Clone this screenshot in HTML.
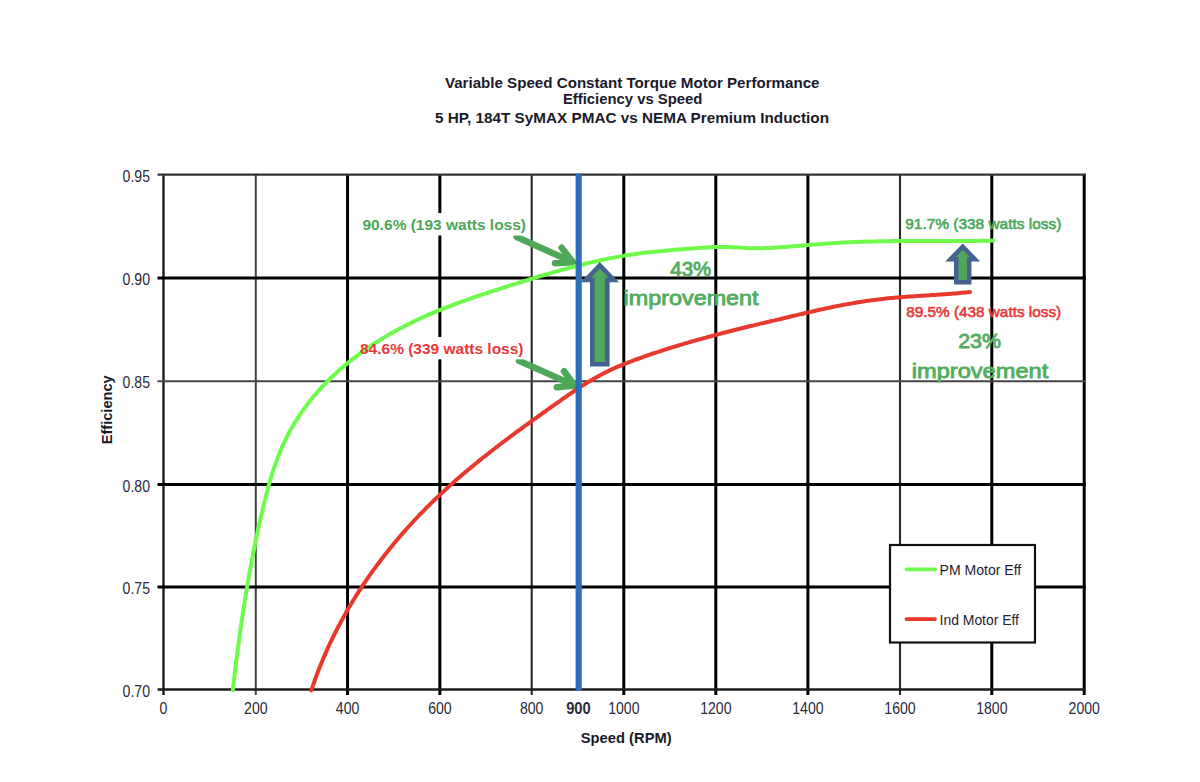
<!DOCTYPE html>
<html><head><meta charset="utf-8"><style>
html,body{margin:0;padding:0;background:#fff;}
svg{display:block;}
text{font-family:"Liberation Sans",sans-serif;}
.tk{font-size:16px;fill:#2a2a3a;}
.tt{font-size:15px;font-weight:bold;fill:#1a1a2a;}
.an{font-size:14.5px;font-weight:bold;}
.an2{font-size:15px;font-weight:normal;stroke-width:0.6px;}
.big{font-size:20px;font-weight:normal;fill:#52ae5e;stroke:#52ae5e;stroke-width:0.85px;}
.lg{font-size:14px;fill:#1e1e2e;}
</style></head><body>
<svg width="1200" height="782" viewBox="0 0 1200 782">
<rect x="0" y="0" width="1200" height="782" fill="#fff"/>
<line x1="163.50" y1="174.00" x2="163.50" y2="695.00" stroke="#1c1c1c" stroke-width="2.4"/>
<line x1="255.80" y1="174.00" x2="255.80" y2="695.00" stroke="#404040" stroke-width="2.0"/>
<line x1="347.55" y1="174.00" x2="347.55" y2="695.00" stroke="#000" stroke-width="3.0"/>
<line x1="439.85" y1="174.00" x2="439.85" y2="695.00" stroke="#000" stroke-width="3.0"/>
<line x1="531.70" y1="174.00" x2="531.70" y2="695.00" stroke="#2a2a2a" stroke-width="2.1"/>
<line x1="623.80" y1="174.00" x2="623.80" y2="695.00" stroke="#000" stroke-width="3.0"/>
<line x1="715.80" y1="174.00" x2="715.80" y2="695.00" stroke="#000" stroke-width="3.0"/>
<line x1="807.90" y1="174.00" x2="807.90" y2="695.00" stroke="#000" stroke-width="3.0"/>
<line x1="900.00" y1="174.00" x2="900.00" y2="695.00" stroke="#2a2a2a" stroke-width="2.1"/>
<line x1="991.80" y1="174.00" x2="991.80" y2="695.00" stroke="#000" stroke-width="3.0"/>
<line x1="1084.20" y1="174.00" x2="1084.20" y2="695.00" stroke="#000" stroke-width="3.0"/>
<line x1="157.50" y1="174.60" x2="1085.70" y2="174.60" stroke="#333" stroke-width="2.1"/>
<line x1="157.50" y1="277.90" x2="1085.70" y2="277.90" stroke="#000" stroke-width="3.0"/>
<line x1="157.50" y1="381.20" x2="1085.70" y2="381.20" stroke="#444" stroke-width="2.0"/>
<line x1="157.50" y1="484.40" x2="1085.70" y2="484.40" stroke="#000" stroke-width="3.0"/>
<line x1="157.50" y1="586.90" x2="1085.70" y2="586.90" stroke="#000" stroke-width="3.0"/>
<line x1="157.50" y1="689.50" x2="1085.70" y2="689.50" stroke="#1c1c1c" stroke-width="2.5"/>
<text transform="translate(150.0,181.7) scale(0.88,1)" text-anchor="end" class="tk">0.95</text>
<text transform="translate(150.0,285.0) scale(0.88,1)" text-anchor="end" class="tk">0.90</text>
<text transform="translate(150.0,388.3) scale(0.88,1)" text-anchor="end" class="tk">0.85</text>
<text transform="translate(150.0,491.5) scale(0.88,1)" text-anchor="end" class="tk">0.80</text>
<text transform="translate(150.0,594.0) scale(0.88,1)" text-anchor="end" class="tk">0.75</text>
<text transform="translate(150.0,696.6) scale(0.88,1)" text-anchor="end" class="tk">0.70</text>
<text transform="translate(163.5,713.8) scale(0.88,1)" text-anchor="middle" class="tk">0</text>
<text transform="translate(255.8,713.8) scale(0.88,1)" text-anchor="middle" class="tk">200</text>
<text transform="translate(347.6,713.8) scale(0.88,1)" text-anchor="middle" class="tk">400</text>
<text transform="translate(439.9,713.8) scale(0.88,1)" text-anchor="middle" class="tk">600</text>
<text transform="translate(531.7,713.8) scale(0.88,1)" text-anchor="middle" class="tk">800</text>
<text transform="translate(623.8,713.8) scale(0.88,1)" text-anchor="middle" class="tk">1000</text>
<text transform="translate(715.8,713.8) scale(0.88,1)" text-anchor="middle" class="tk">1200</text>
<text transform="translate(807.9,713.8) scale(0.88,1)" text-anchor="middle" class="tk">1400</text>
<text transform="translate(900.0,713.8) scale(0.88,1)" text-anchor="middle" class="tk">1600</text>
<text transform="translate(991.8,713.8) scale(0.88,1)" text-anchor="middle" class="tk">1800</text>
<text transform="translate(1084.2,713.8) scale(0.88,1)" text-anchor="middle" class="tk">2000</text>
<text transform="translate(578.4,713.8) scale(0.92,1)" text-anchor="middle" class="tk" font-weight="bold" fill="#1e2c72">900</text>
<text x="632.2" y="88.0" text-anchor="middle" class="tt" textLength="374.6" lengthAdjust="spacingAndGlyphs">Variable Speed Constant  Torque Motor Performance</text>
<text x="632.7" y="104.0" text-anchor="middle" class="tt" textLength="139.5" lengthAdjust="spacingAndGlyphs">Efficiency vs Speed</text>
<text x="632" y="123.0" text-anchor="middle" class="tt" textLength="394" lengthAdjust="spacingAndGlyphs">5 HP, 184T SyMAX PMAC vs NEMA Premium Induction</text>
<text x="626.2" y="743.2" text-anchor="middle" class="tt" textLength="91" lengthAdjust="spacingAndGlyphs">Speed (RPM)</text>
<text transform="translate(112,409.8) rotate(-90)" text-anchor="middle" class="tt" textLength="69" lengthAdjust="spacingAndGlyphs">Efficiency</text>
<path d="M516.70,237.00 L573.00,262.20 M561.60,247.80 L573.00,262.20 L555.00,263.30" fill="none" stroke="#4fa85a" stroke-width="6.5" stroke-linecap="round" stroke-linejoin="round"/>
<path d="M519.00,360.80 L574.90,385.60 M564.00,371.30 L574.90,385.60 L556.80,387.20" fill="none" stroke="#4fa85a" stroke-width="6.5" stroke-linecap="round" stroke-linejoin="round"/>
<rect x="357" y="213" width="172" height="22.5" fill="#fff"/>
<rect x="357" y="337" width="172" height="22.3" fill="#fff"/>
<path d="M232.8,690.2 L233.1,687.6 L233.4,685.0 L233.7,682.5 L234.0,679.9 L234.3,677.3 L234.6,674.8 L234.9,672.2 L235.2,669.6 L235.5,667.1 L235.8,664.5 L236.1,661.9 L236.5,659.4 L236.8,656.8 L237.1,654.3 L237.5,651.7 L237.8,649.2 L238.1,646.6 L238.5,644.1 L238.8,641.5 L239.1,639.0 L239.5,636.4 L239.9,633.9 L240.2,631.3 L240.6,628.8 L240.9,626.3 L241.3,623.7 L241.7,621.2 L242.0,618.7 L242.4,616.1 L242.8,613.6 L243.2,611.1 L243.6,608.5 L244.0,606.0 L244.4,603.5 L244.8,600.9 L245.2,598.4 L245.6,595.9 L246.0,593.4 L246.4,590.8 L246.9,588.3 L247.3,585.8 L247.7,583.3 L248.2,580.7 L248.6,578.2 L249.0,575.7 L249.5,573.2 L249.9,570.7 L250.4,568.1 L250.9,565.6 L251.3,563.1 L251.8,560.6 L252.3,558.1 L252.8,555.5 L253.3,553.0 L253.8,550.5 L254.3,548.0 L254.8,545.5 L255.3,543.0 L255.8,540.4 L256.3,537.9 L256.9,535.4 L257.4,532.9 L257.9,530.4 L258.5,527.8 L259.0,525.3 L259.6,522.8 L260.1,520.3 L260.7,517.8 L261.3,515.2 L261.9,512.7 L262.5,510.2 L263.0,507.7 L263.6,505.2 L264.3,502.6 L264.9,500.1 L265.5,497.6 L266.2,495.1 L266.8,492.6 L267.5,490.1 L268.2,487.6 L268.8,485.1 L269.6,482.6 L270.3,480.1 L271.0,477.7 L271.8,475.2 L272.6,472.7 L273.3,470.3 L274.2,467.8 L275.0,465.4 L275.8,463.0 L276.7,460.6 L277.6,458.1 L278.5,455.8 L279.5,453.4 L280.4,451.0 L281.4,448.6 L282.4,446.3 L283.5,444.0 L284.6,441.6 L285.7,439.3 L286.8,437.0 L287.9,434.8 L289.1,432.5 L290.3,430.2 L291.6,428.0 L292.9,425.8 L294.2,423.6 L295.5,421.4 L296.9,419.3 L298.3,417.1 L299.7,415.0 L301.1,412.9 L302.6,410.8 L304.1,408.7 L305.6,406.6 L307.1,404.6 L308.7,402.5 L310.3,400.5 L311.9,398.5 L313.5,396.6 L315.2,394.6 L316.9,392.7 L318.6,390.7 L320.3,388.8 L322.0,386.9 L323.8,385.1 L325.6,383.2 L327.4,381.4 L329.2,379.6 L331.0,377.8 L332.9,376.0 L334.8,374.2 L336.7,372.5 L338.6,370.8 L340.5,369.1 L342.4,367.4 L344.4,365.7 L346.4,364.1 L348.3,362.5 L350.3,360.8 L352.4,359.2 L354.4,357.7 L356.4,356.1 L358.5,354.6 L360.6,353.0 L362.7,351.5 L364.8,350.0 L366.9,348.6 L369.0,347.1 L371.1,345.7 L373.3,344.3 L375.4,342.9 L377.6,341.5 L379.8,340.1 L382.0,338.8 L384.2,337.4 L386.4,336.1 L388.6,334.8 L390.8,333.5 L393.1,332.3 L395.3,331.0 L397.6,329.8 L399.9,328.6 L402.1,327.4 L404.4,326.2 L406.7,325.0 L409.0,323.9 L411.3,322.7 L413.6,321.6 L415.9,320.5 L418.2,319.4 L420.6,318.3 L422.9,317.3 L425.2,316.2 L427.6,315.2 L429.9,314.2 L432.3,313.2 L434.6,312.2 L437.0,311.2 L439.4,310.2 L441.8,309.3 L444.1,308.3 L446.5,307.4 L448.9,306.5 L451.3,305.6 L453.7,304.6 L456.1,303.7 L458.5,302.9 L460.9,302.0 L463.3,301.1 L465.7,300.3 L468.2,299.4 L470.6,298.6 L473.0,297.7 L475.4,296.9 L477.9,296.0 L480.3,295.2 L482.7,294.4 L485.2,293.6 L487.6,292.8 L490.1,292.0 L492.5,291.2 L494.9,290.4 L497.4,289.6 L499.8,288.8 L502.3,288.0 L504.7,287.2 L507.2,286.5 L509.6,285.7 L512.1,284.9 L514.6,284.1 L517.0,283.4 L519.5,282.6 L521.9,281.8 L524.4,281.0 L526.8,280.3 L529.3,279.5 L531.8,278.8 L534.2,278.0 L536.7,277.2 L539.1,276.5 L541.6,275.8 L544.1,275.0 L546.6,274.3 L549.0,273.6 L551.5,272.9 L554.0,272.1 L556.4,271.4 L558.9,270.7 L561.4,270.0 L563.9,269.4 L566.4,268.7 L568.8,268.0 L571.3,267.3 L573.8,266.7 L576.3,266.0 L578.8,265.4 L581.3,264.8 L583.8,264.2 L586.3,263.5 L588.8,262.9 L591.3,262.4 L593.8,261.8 L596.3,261.2 L598.8,260.7 L601.3,260.1 L603.8,259.6 L606.3,259.1 L608.8,258.5 L611.3,258.0 L613.8,257.6 L616.4,257.1 L618.9,256.6 L621.4,256.2 L623.9,255.8 L626.5,255.3 L629.0,254.9 L631.5,254.5 L634.1,254.2 L636.6,253.8 L639.1,253.5 L641.7,253.1 L644.2,252.8 L646.8,252.5 L649.3,252.2 L651.9,252.0 L654.5,251.7 L657.0,251.4 L659.6,251.2 L662.1,250.9 L664.7,250.7 L667.3,250.5 L669.8,250.3 L672.4,250.0 L675.0,249.8 L677.5,249.6 L680.1,249.4 L682.7,249.2 L685.2,249.0 L687.8,248.8 L690.4,248.6 L692.9,248.4 L695.5,248.2 L698.1,248.0 L700.6,247.8 L703.2,247.7 L705.8,247.5 L708.3,247.4 L710.9,247.2 L713.5,247.1 L716.0,247.1 L718.6,247.0 L721.2,247.0 L723.7,247.0 L726.3,247.0 L728.8,247.1 L731.4,247.2 L734.0,247.3 L736.5,247.5 L739.1,247.6 L741.7,247.8 L744.2,247.9 L746.8,248.1 L749.4,248.2 L751.9,248.2 L754.5,248.3 L757.0,248.3 L759.6,248.2 L762.2,248.2 L764.7,248.1 L767.3,248.0 L769.9,247.9 L772.4,247.7 L775.0,247.6 L777.6,247.4 L780.1,247.2 L782.7,247.1 L785.3,246.9 L787.8,246.7 L790.4,246.5 L793.0,246.3 L795.5,246.1 L798.1,245.9 L800.6,245.7 L803.2,245.5 L805.8,245.3 L808.3,245.0 L810.9,244.8 L813.5,244.6 L816.0,244.4 L818.6,244.2 L821.2,244.0 L823.7,243.8 L826.3,243.6 L828.9,243.4 L831.4,243.2 L834.0,243.1 L836.6,242.9 L839.1,242.8 L841.7,242.6 L844.3,242.5 L846.8,242.3 L849.4,242.2 L852.0,242.1 L854.5,242.0 L857.1,241.9 L859.7,241.8 L862.2,241.7 L864.8,241.7 L867.4,241.6 L869.9,241.5 L872.5,241.5 L875.1,241.4 L877.6,241.3 L880.2,241.3 L882.8,241.3 L885.3,241.2 L887.9,241.2 L890.5,241.2 L893.1,241.1 L895.6,241.1 L898.2,241.1 L900.8,241.1 L903.3,241.1 L905.9,241.1 L908.5,241.1 L911.0,241.1 L913.6,241.1 L916.2,241.1 L918.8,241.1 L921.3,241.1 L923.9,241.1 L926.5,241.1 L929.0,241.1 L931.6,241.1 L934.2,241.1 L936.8,241.1 L939.3,241.1 L941.9,241.1 L944.5,241.1 L947.0,241.1 L949.6,241.1 L952.2,241.1 L954.7,241.1 L957.3,241.1 L959.9,241.1 L962.5,241.0 L965.0,241.0 L967.6,241.0 L970.2,241.0 L972.7,240.9 L975.3,240.9 L977.9,240.9 L980.5,240.8 L983.0,240.8 L985.6,240.7 L988.2,240.7 L990.7,240.6 L993.3,240.5" fill="none" stroke="#6ffb4c" stroke-width="4.0" stroke-linecap="round" stroke-linejoin="round"/>
<path d="M311.3,690.5 L311.9,688.5 L312.6,686.6 L313.3,684.6 L314.0,682.7 L314.6,680.7 L315.3,678.8 L316.1,676.8 L316.8,674.9 L317.5,673.0 L318.2,671.0 L319.0,669.1 L319.7,667.2 L320.5,665.3 L321.3,663.4 L322.1,661.5 L322.8,659.6 L323.6,657.7 L324.5,655.8 L325.3,653.9 L326.1,652.0 L326.9,650.2 L327.8,648.3 L328.6,646.4 L329.5,644.5 L330.4,642.7 L331.2,640.8 L332.1,639.0 L333.0,637.1 L333.9,635.3 L334.9,633.5 L335.8,631.6 L336.7,629.8 L337.6,628.0 L338.6,626.2 L339.6,624.4 L340.5,622.6 L341.5,620.8 L342.5,619.0 L343.5,617.2 L344.5,615.4 L345.5,613.6 L346.5,611.8 L347.5,610.0 L348.5,608.3 L349.6,606.5 L350.6,604.7 L351.7,603.0 L352.7,601.2 L353.8,599.5 L354.9,597.7 L355.9,596.0 L357.0,594.3 L358.1,592.6 L359.2,590.8 L360.4,589.1 L361.5,587.4 L362.6,585.7 L363.7,584.0 L364.9,582.3 L366.0,580.6 L367.2,578.9 L368.4,577.2 L369.5,575.5 L370.7,573.9 L371.9,572.2 L373.1,570.5 L374.3,568.9 L375.5,567.2 L376.7,565.6 L377.9,563.9 L379.2,562.3 L380.4,560.7 L381.6,559.0 L382.9,557.4 L384.1,555.8 L385.4,554.2 L386.7,552.6 L387.9,551.0 L389.2,549.4 L390.5,547.8 L391.8,546.2 L393.1,544.6 L394.4,543.0 L395.7,541.5 L397.0,539.9 L398.4,538.3 L399.7,536.8 L401.0,535.2 L402.4,533.7 L403.7,532.1 L405.1,530.6 L406.5,529.1 L407.8,527.5 L409.2,526.0 L410.6,524.5 L412.0,523.0 L413.4,521.5 L414.8,520.0 L416.2,518.5 L417.6,517.0 L419.0,515.5 L420.4,514.0 L421.8,512.6 L423.3,511.1 L424.7,509.6 L426.1,508.2 L427.6,506.7 L429.0,505.3 L430.5,503.8 L432.0,502.4 L433.4,501.0 L434.9,499.5 L436.4,498.1 L437.9,496.7 L439.4,495.3 L440.9,493.9 L442.4,492.5 L443.9,491.1 L445.4,489.7 L446.9,488.3 L448.4,487.0 L449.9,485.6 L451.5,484.2 L453.0,482.9 L454.5,481.5 L456.1,480.1 L457.6,478.8 L459.2,477.5 L460.7,476.1 L462.3,474.8 L463.8,473.5 L465.4,472.1 L467.0,470.8 L468.5,469.5 L470.1,468.2 L471.7,466.9 L473.3,465.6 L474.9,464.3 L476.5,463.0 L478.0,461.7 L479.6,460.4 L481.2,459.1 L482.8,457.8 L484.4,456.6 L486.1,455.3 L487.7,454.0 L489.3,452.7 L490.9,451.5 L492.5,450.2 L494.1,449.0 L495.7,447.7 L497.4,446.5 L499.0,445.2 L500.6,444.0 L502.3,442.7 L503.9,441.5 L505.5,440.3 L507.2,439.0 L508.8,437.8 L510.4,436.6 L512.1,435.4 L513.7,434.1 L515.4,432.9 L517.0,431.7 L518.7,430.5 L520.3,429.3 L522.0,428.1 L523.6,426.9 L525.3,425.7 L526.9,424.5 L528.6,423.3 L530.3,422.1 L531.9,420.9 L533.6,419.7 L535.2,418.5 L536.9,417.3 L538.6,416.1 L540.2,414.9 L541.9,413.7 L543.6,412.5 L545.3,411.3 L546.9,410.1 L548.6,408.9 L550.3,407.7 L552.0,406.5 L553.6,405.4 L555.3,404.2 L557.0,403.0 L558.7,401.8 L560.4,400.6 L562.0,399.4 L563.7,398.2 L565.4,397.1 L567.1,395.9 L568.8,394.7 L570.5,393.6 L572.2,392.4 L573.9,391.3 L575.6,390.1 L577.3,389.0 L579.0,387.9 L580.8,386.7 L582.5,385.6 L584.2,384.5 L586.0,383.5 L587.7,382.4 L589.5,381.3 L591.2,380.3 L593.0,379.2 L594.7,378.2 L596.5,377.2 L598.3,376.2 L600.1,375.2 L601.9,374.3 L603.7,373.3 L605.5,372.4 L607.4,371.5 L609.2,370.6 L611.0,369.7 L612.9,368.9 L614.8,368.0 L616.6,367.2 L618.5,366.4 L620.4,365.6 L622.3,364.8 L624.2,364.0 L626.1,363.3 L628.0,362.5 L629.9,361.8 L631.8,361.1 L633.7,360.4 L635.6,359.7 L637.5,359.0 L639.5,358.3 L641.4,357.6 L643.3,356.9 L645.3,356.2 L647.2,355.5 L649.1,354.9 L651.1,354.2 L653.0,353.5 L654.9,352.9 L656.9,352.3 L658.8,351.6 L660.8,351.0 L662.7,350.3 L664.7,349.7 L666.6,349.1 L668.6,348.5 L670.5,347.9 L672.5,347.3 L674.4,346.7 L676.4,346.1 L678.4,345.5 L680.3,344.9 L682.3,344.3 L684.3,343.7 L686.2,343.1 L688.2,342.6 L690.2,342.0 L692.1,341.4 L694.1,340.9 L696.1,340.3 L698.0,339.8 L700.0,339.2 L702.0,338.7 L704.0,338.1 L705.9,337.6 L707.9,337.0 L709.9,336.5 L711.9,336.0 L713.9,335.4 L715.9,334.9 L717.8,334.4 L719.8,333.9 L721.8,333.3 L723.8,332.8 L725.8,332.3 L727.8,331.8 L729.8,331.3 L731.7,330.8 L733.7,330.3 L735.7,329.8 L737.7,329.3 L739.7,328.8 L741.7,328.3 L743.7,327.8 L745.7,327.3 L747.7,326.8 L749.7,326.3 L751.7,325.8 L753.7,325.4 L755.7,324.9 L757.6,324.4 L759.6,323.9 L761.6,323.4 L763.6,323.0 L765.6,322.5 L767.6,322.0 L769.6,321.5 L771.6,321.0 L773.6,320.6 L775.6,320.1 L777.6,319.6 L779.6,319.2 L781.6,318.7 L783.6,318.2 L785.6,317.7 L787.6,317.3 L789.6,316.8 L791.6,316.3 L793.6,315.8 L795.6,315.4 L797.6,314.9 L799.6,314.4 L801.6,314.0 L803.6,313.5 L805.5,313.0 L807.5,312.6 L809.5,312.1 L811.5,311.7 L813.5,311.2 L815.5,310.7 L817.5,310.3 L819.5,309.8 L821.5,309.4 L823.5,309.0 L825.5,308.5 L827.5,308.1 L829.5,307.7 L831.5,307.3 L833.5,306.8 L835.5,306.4 L837.5,306.0 L839.5,305.6 L841.6,305.2 L843.6,304.8 L845.6,304.5 L847.6,304.1 L849.6,303.7 L851.6,303.4 L853.6,303.0 L855.6,302.7 L857.7,302.3 L859.7,302.0 L861.7,301.7 L863.7,301.4 L865.7,301.1 L867.8,300.8 L869.8,300.5 L871.8,300.2 L873.9,299.9 L875.9,299.7 L877.9,299.4 L880.0,299.2 L882.0,299.0 L884.0,298.8 L886.1,298.5 L888.1,298.3 L890.2,298.1 L892.2,298.0 L894.3,297.8 L896.3,297.6 L898.4,297.4 L900.4,297.3 L902.5,297.1 L904.5,296.9 L906.6,296.8 L908.6,296.6 L910.7,296.5 L912.7,296.4 L914.8,296.2 L916.8,296.1 L918.9,295.9 L920.9,295.8 L923.0,295.7 L925.0,295.5 L927.1,295.4 L929.2,295.3 L931.2,295.1 L933.3,295.0 L935.3,294.9 L937.4,294.7 L939.4,294.6 L941.5,294.5 L943.5,294.3 L945.5,294.2 L947.6,294.0 L949.6,293.9 L951.7,293.7 L953.7,293.5 L955.7,293.4 L957.8,293.2 L959.8,293.0 L961.9,292.8 L963.9,292.6 L965.9,292.4 L967.9,292.2 L970.0,292.0" fill="none" stroke="#e8392c" stroke-width="4.0" stroke-linecap="round" stroke-linejoin="round"/>
<line x1="578.7" y1="173.5" x2="578.7" y2="691" stroke="#2e6fbd" stroke-width="6.2"/>
<polygon points="599.80,262.00 619.10,282.30 609.60,282.30 609.60,366.50 590.00,366.50 590.00,282.30 580.50,282.30" fill="#45618f"/><polygon points="599.80,268.53 608.61,277.80 605.10,277.80 605.10,362.00 594.50,362.00 594.50,277.80 590.99,277.80" fill="#4fa85a"/>
<polygon points="962.70,243.40 980.20,261.50 971.40,261.50 971.40,284.60 954.00,284.60 954.00,261.50 945.20,261.50" fill="#45618f"/><polygon points="962.70,249.87 969.59,257.00 966.90,257.00 966.90,280.10 958.50,280.10 958.50,257.00 955.81,257.00" fill="#4fa85a"/>
<text x="362.5" y="229.6" class="an" fill="#4aa858" textLength="163.5" lengthAdjust="spacingAndGlyphs">90.6% (193 watts loss)</text>
<text x="360" y="354.0" class="an" fill="#e8393a" textLength="163.5" lengthAdjust="spacingAndGlyphs">84.6% (339 watts loss)</text>
<text x="905.3" y="229.4" class="an2" fill="#4aa858" stroke="#4aa858" textLength="156" lengthAdjust="spacingAndGlyphs">91.7% (338 watts loss)</text>
<text x="906.2" y="317.4" class="an2" fill="#e8393a" stroke="#e8393a" textLength="155" lengthAdjust="spacingAndGlyphs">89.5% (438 watts loss)</text>
<text x="690.8" y="275.8" text-anchor="middle" class="big" textLength="41" lengthAdjust="spacingAndGlyphs">43%</text>
<text x="691.1" y="305.2" text-anchor="middle" class="big" style="font-size:21px" textLength="135" lengthAdjust="spacingAndGlyphs">improvement</text>
<text x="979.6" y="348.2" text-anchor="middle" class="big" textLength="42.7" lengthAdjust="spacingAndGlyphs">23%</text>
<text x="980" y="377.7" text-anchor="middle" class="big" style="font-size:21px" textLength="136.5" lengthAdjust="spacingAndGlyphs">improvement</text>
<rect x="890" y="545" width="145" height="97.5" fill="#fff" stroke="#111" stroke-width="2.2"/>
<line x1="906.5" y1="569.3" x2="935" y2="569.3" stroke="#6ffb4c" stroke-width="3.8" stroke-linecap="round"/>
<line x1="906.5" y1="619.1" x2="935" y2="619.1" stroke="#e8392c" stroke-width="3.8" stroke-linecap="round"/>
<text x="939.6" y="575.2" class="lg" textLength="81.6" lengthAdjust="spacingAndGlyphs">PM Motor Eff</text>
<text x="939.6" y="624.8" class="lg" textLength="79.4" lengthAdjust="spacingAndGlyphs">Ind Motor Eff</text>
</svg>
</body></html>
